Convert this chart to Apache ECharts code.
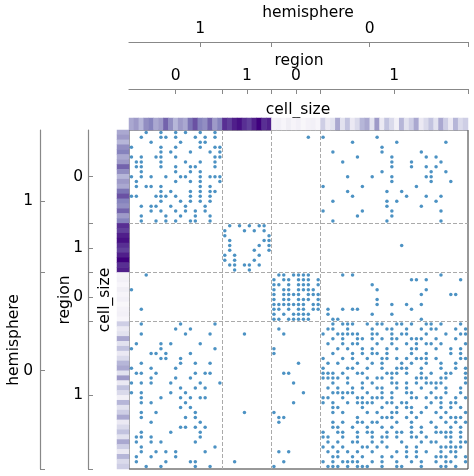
<!DOCTYPE html>
<html><head><meta charset="utf-8">
<script src="https://cdn.jsdelivr.net/npm/echarts@6/dist/echarts.min.js"></script>
<style>html,body{margin:0;padding:0;background:#fff}#c{width:474px;height:476px}</style>
</head><body><div id="c"></div>
<script>
// group sizes in node order: hemisphere1/region0, hemisphere1/region1, hemisphere0/region0, hemisphere0/region1
const groupSizes = [19, 10, 10, 30];
const regionLabels = ['0', '1', '0', '1'];
const hemisphereLabels = ['1', '0'];
const cellSize = [0.45,0.5,0.4,0.55,0.6,0.45,0.5,0.7,0.55,0.4,0.5,0.45,0.65,0.75,0.6,0.55,0.7,0.5,0.6,
 0.85,0.8,0.9,0.95,0.85,0.8,0.9,1.0,0.85,0.9,
 0.08,0.1,0.05,0.12,0.06,0.1,0.04,0.08,0.1,0.05,
 0.3,0.15,0.2,0.45,0.2,0.35,0.15,0.25,0.4,0.45,0.2,0.5,0.15,0.35,0.25,0.1,0.4,0.2,0.3,0.45,0.15,0.25,0.35,0.2,0.45,0.3,0.15,0.4,0.25,0.3];
// adjacency rows: [block a, block b, block c, block d]
const adjacencyRows = [
["...x..x..x.x..x..x.","..........","..........",".............................."],
["..x...xx.x...x.x.x.","..........",".......x..","x..........x.................."],
["....x.....x...xx...","..........","..........","......x........x.........x...."],
["x.....x..x....x..xx","..........","..........","............x................."],
["......x.x...x...x.x","..........","..........","..x.........x.......x........."],
["x.x..xx..x.......xx","..........","..........",".......x......x......x.x....."],
[".xx...x....x..x..x.","..........","..........","....x.........x...x.....x....."],
[".xx...x..x..xx...x.","..........","..........","..............x...x..x.x....."],
["..x......x..x.x....","..........","..........","............x.........x..x...."],
["x.x.x..x..xx..x.xxx","..........","..........",".....x....x...x......xx......."],
[".x.......x..x.x...x","..........","..........","..............x.......x...x..."],
[".x.xx.x.......x.x..","..........","..........","x.......x..........x.........."],
["......x.x...x.x.xx.","..........","..........",".....x.......x..x............."],
["xx...xxx.x..x.x.x..","..........","..........","......x..........x...x..x....."],
["......x...x.x.x.x..","..........","..........","..x..........x.x.......x......"],
["..x.xx..x..x...x...","..........","..........",".............x......x........."],
["....x.x..x.x.x.x...","..........","..........","x.......x.....x.........x....."],
["..x....x..x..x..x..","..........","..........",".......x......x..............."],
["..x..x.x.x..xx..x..","..........","..........","..x..........x..........x....."],
["...................",".x.x.x.xx.","..........",".............................."],
["...................","x...x.x.x.","..........",".............................."],
["...................","x........x","..........",".............................."],
["...................",".x......xx","..........",".............................."],
["...................",".x.....x.x","..........","................x............."],
["...................",".x....x..x","..........",".............................."],
["...................","x.x....x..","..........",".............................."],
["...................","x.x...x...","..........",".............................."],
["...................",".xx.xx.x..","..........",".............................."],
["...................","..x..x....","..........",".............................."],
["...x...............","..........",".xx.xxxx..","....x.x.................x....."],
["...................","..........","x.xx.xxx.x","..................xx.x......x."],
["...................","..........","xx.x.xxx.x","..........x..................."],
["x..................","..........","x.xx.xxxx.","...........x.........x........"],
["...................","..........","x.xxxx.xxx","....................x.....xx.."],
["...................","..........","x.xx.xxx.x","...........x..................."],
["...................","..........","xxxxxxx.xx","...........x..x..x..x........."],
["..x................","..........","xx.x.xx.xx",".x..x.xx..........x..........."],
["...................","..........","x.x.xxxx..",".x........x...x..............."],
["...................","..........","xx.xxxxx..","..xx................x........."],
["..x.......x......x.","..........","..........","..x.xxx..x.xx..xx.x..xx.x...x."],
[".........x..x......","..........",".x........",".xx..x....x..xx..x..x.xx...x.x"],
["..x........x....x..","....x.....","..x.......","x..xxxxx..xx..x.xx...x...x..xx"],
["...................","..........","..........","..x.x..xx.x.x.xx..xxx..x...x.."],
[".x....x.x.....x....","..........","..........",".x..x.xx...x..x..x.x.xx.x....x"],
["x.....x..........x.","..........","x.........","...x.x..x.x..x.x..xx...x..x.x."],
["....xx.x....x......","..........","x.........","..x...x.x.xx.x....x..x....x.x."],
["......xx..x........","..........","..........","x...x.x..x..xx.x.x.xxx.x....xx"],
["..x.......x..x..x..","..........",".....x....",".x.x...x..x.x...x.x..x..x..x.."],
["x...x....x.........","..........","..........","x....xx..x..x..xxx..x...x..x.x"],
[".xx..x.......x.xx..","..........","..xx......","xxx.x..xx....xxx.x..x.x..xx..x"],
["....x....x..x......","..........","..........","xxxx.x...x.xx.x....xxx..xx...x"],
["x.x.x...x.....x...x","..........","....x.....","..x..x..x.x...xx.x.x.xxxx....x"],
["..........x..x.x...","..........","..........",".x.x..x.x..xx..x.x..x..x.x..x."],
["x.x.....x..x.......","..........","......x...","..xxxxx..x..x.x..xx...x..x..x."],
["..x...x...x.x.xx...","..........","..........","xx..x..xx.xxx.x...xx.x.xx..x.x"],
["..x.x......x.......","..........","....x.....","x.x..x.xxxx..xx.xx....x.x.xx.."],
["..........x.x......","..........","..........","..xx....x...x..x.xx..x..x.x.x."],
["..x..x.......x.....","....x.....","x.........","..x.x....x.x..xx..x.x..x.x...x"],
["..x........x.x.....","..........",".xx.......",".......x....xxx..x.x....x.xxx."],
["....x.........x....","..........",".x........","..x.x..xx.xx...x..x...x..x.x.x"],
["..........xx.x.x...","..........","..........","..xx..x..x..x.x...x.x..x..x.x."],
["..x.....x.....x....","..........","..........","x..xx..x.xx..x.xx.x.x..xxxx.x."],
[".xx.x.........x....","..........","..........","xx..x..x..x.xx.x..xx.x...xx.x."],
[".x..x.x......x.....","..........","..........",".x.x..xx..x.x...x...x.xx..x.xx"],
["..x..............x.","..........","..........","x.x.x...xx.x.x...x.x....xxxxx."],
["..x..x.x.x.....x...","..........",".x.x......",".x.x.x.x..x....x.x.x.x..x.xx.."],
[".x..x....x.........","..........","..........","..xx..x.x...x.x..x.x...xxx.x.x"],
[".x.....x....xx.....","..x.......","..x.......","x.x.xxxx..x.x..x..x.x..x.xx..x"],
["...x..x......x..x..","..........","x.........",".xxx.x.xxx..x..xx...x...xx.x.."]
];
const N = groupSizes.reduce((a,b)=>a+b,0);
const bounds = []; const centers = [];
let acc = 0;
groupSizes.forEach(s => { centers.push(acc + s/2); acc += s; bounds.push(acc); });
const hemiCenters = [(bounds[1])/2, (bounds[1]+N)/2];
const pts = [];
adjacencyRows.forEach((segs, r) => {
  let col = 0;
  segs.forEach((s, g) => {
    for (let k = 0; k < groupSizes[g]; k++) { if (s[k] === 'x') pts.push([col + k + 0.5, r + 0.5]); }
    col += groupSizes[g];
  });
});
const topHeat = cellSize.map((v,i)=>[i,0,v]);
const leftHeat = cellSize.map((v,i)=>[0,i,v]);
const idx = cellSize.map((_,i)=>String(i));
const F = 'DejaVu Sans';
const lab = {color:'#000', fontSize:15.5, fontFamily:F};
const lineC = {onZero:false, lineStyle:{color:'#888', width:1.2}};
function mapLabel(cs, labels){ return v => { const i = cs.findIndex(c=>Math.abs(c-v)<1e-6); return i>=0?labels[i]:''; }; }
function txt(t, x, y, rot){ return {type:'text', x, y, rotation:rot||0, style:{text:t, align:'center', verticalAlign:'middle', font:'15.5px DejaVu Sans', fill:'#000'}}; }
const chart = echarts.init(document.getElementById('c'));
chart.setOption({
  animation:false,
  grid:[
    {left:129, top:130, width:339, height:339, show:true, borderColor:'#333', borderWidth:1, outerBoundsMode:'none', containLabel:false},
    {left:129, top:118, width:339, height:12, outerBoundsMode:'none'},
    {left:117, top:130, width:12, height:339, outerBoundsMode:'none'}
  ],
  xAxis:[
    {gridIndex:0, type:'value', min:0, max:N, show:false},
    {gridIndex:0, type:'value', min:0, max:N, position:'top', offset:41, axisLine:{show:true, ...lineC},
     axisTick:{show:true, inside:true, length:5, customValues:[...bounds, ...centers], lineStyle:{color:'#888'}},
     axisLabel:{...lab, customValues:centers, formatter:mapLabel(centers, regionLabels), margin:5},
     splitLine:{show:false}},
    {gridIndex:0, type:'value', min:0, max:N, position:'top', offset:88, axisLine:{show:true, ...lineC},
     axisTick:{show:true, inside:true, length:5, customValues:[bounds[1], N, ...hemiCenters], lineStyle:{color:'#888'}},
     axisLabel:{...lab, customValues:hemiCenters, formatter:mapLabel(hemiCenters, hemisphereLabels), margin:5},
     splitLine:{show:false}},
    {gridIndex:1, type:'category', data:idx, show:false},
    {gridIndex:2, type:'category', data:['a'], show:false}
  ],
  yAxis:[
    {gridIndex:0, type:'value', min:0, max:N, inverse:true, show:false},
    {gridIndex:0, type:'value', min:0, max:N, inverse:true, position:'left', offset:41, axisLine:{show:true, ...lineC},
     axisTick:{show:true, inside:true, length:5, customValues:[...bounds, ...centers], lineStyle:{color:'#888'}},
     axisLabel:{...lab, customValues:centers, formatter:mapLabel(centers, regionLabels), margin:5},
     splitLine:{show:false}},
    {gridIndex:0, type:'value', min:0, max:N, inverse:true, position:'left', offset:89, axisLine:{show:true, ...lineC},
     axisTick:{show:true, inside:true, length:5, customValues:[bounds[1], N, ...hemiCenters], lineStyle:{color:'#888'}},
     axisLabel:{...lab, customValues:hemiCenters, formatter:mapLabel(hemiCenters, hemisphereLabels), margin:7},
     splitLine:{show:false}},
    {gridIndex:1, type:'category', data:['a'], show:false},
    {gridIndex:2, type:'category', data:idx, inverse:true, show:false}
  ],
  visualMap:{show:false, min:0, max:1, seriesIndex:[1,2],
    inRange:{color:['#fcfbfd','#efedf5','#dadaeb','#bcbddc','#9e9ac8','#807dba','#6a51a3','#54278f','#3f007d']}},
  graphic:[
    txt('hemisphere', 308, 13), txt('region', 299, 61), txt('cell_size', 298, 110),
    txt('hemisphere', 14, 340, Math.PI/2), txt('region', 65, 300, Math.PI/2), txt('cell_size', 105, 300, Math.PI/2)
  ],
  series:[
    {type:'scatter', xAxisIndex:0, yAxisIndex:0, data:pts, symbolSize:3.5, itemStyle:{color:'#1f77b4'}, silent:true,
     markLine:{silent:true, symbol:'none', label:{show:false}, lineStyle:{type:'dashed', color:'#aaa', width:1},
       data:[...bounds.slice(0,3).map(b=>({xAxis:b})), ...bounds.slice(0,3).map(b=>({yAxis:b}))]}},
    {type:'heatmap', xAxisIndex:3, yAxisIndex:3, data:topHeat},
    {type:'heatmap', xAxisIndex:4, yAxisIndex:4, data:leftHeat}
  ]
});
</script></body></html>
